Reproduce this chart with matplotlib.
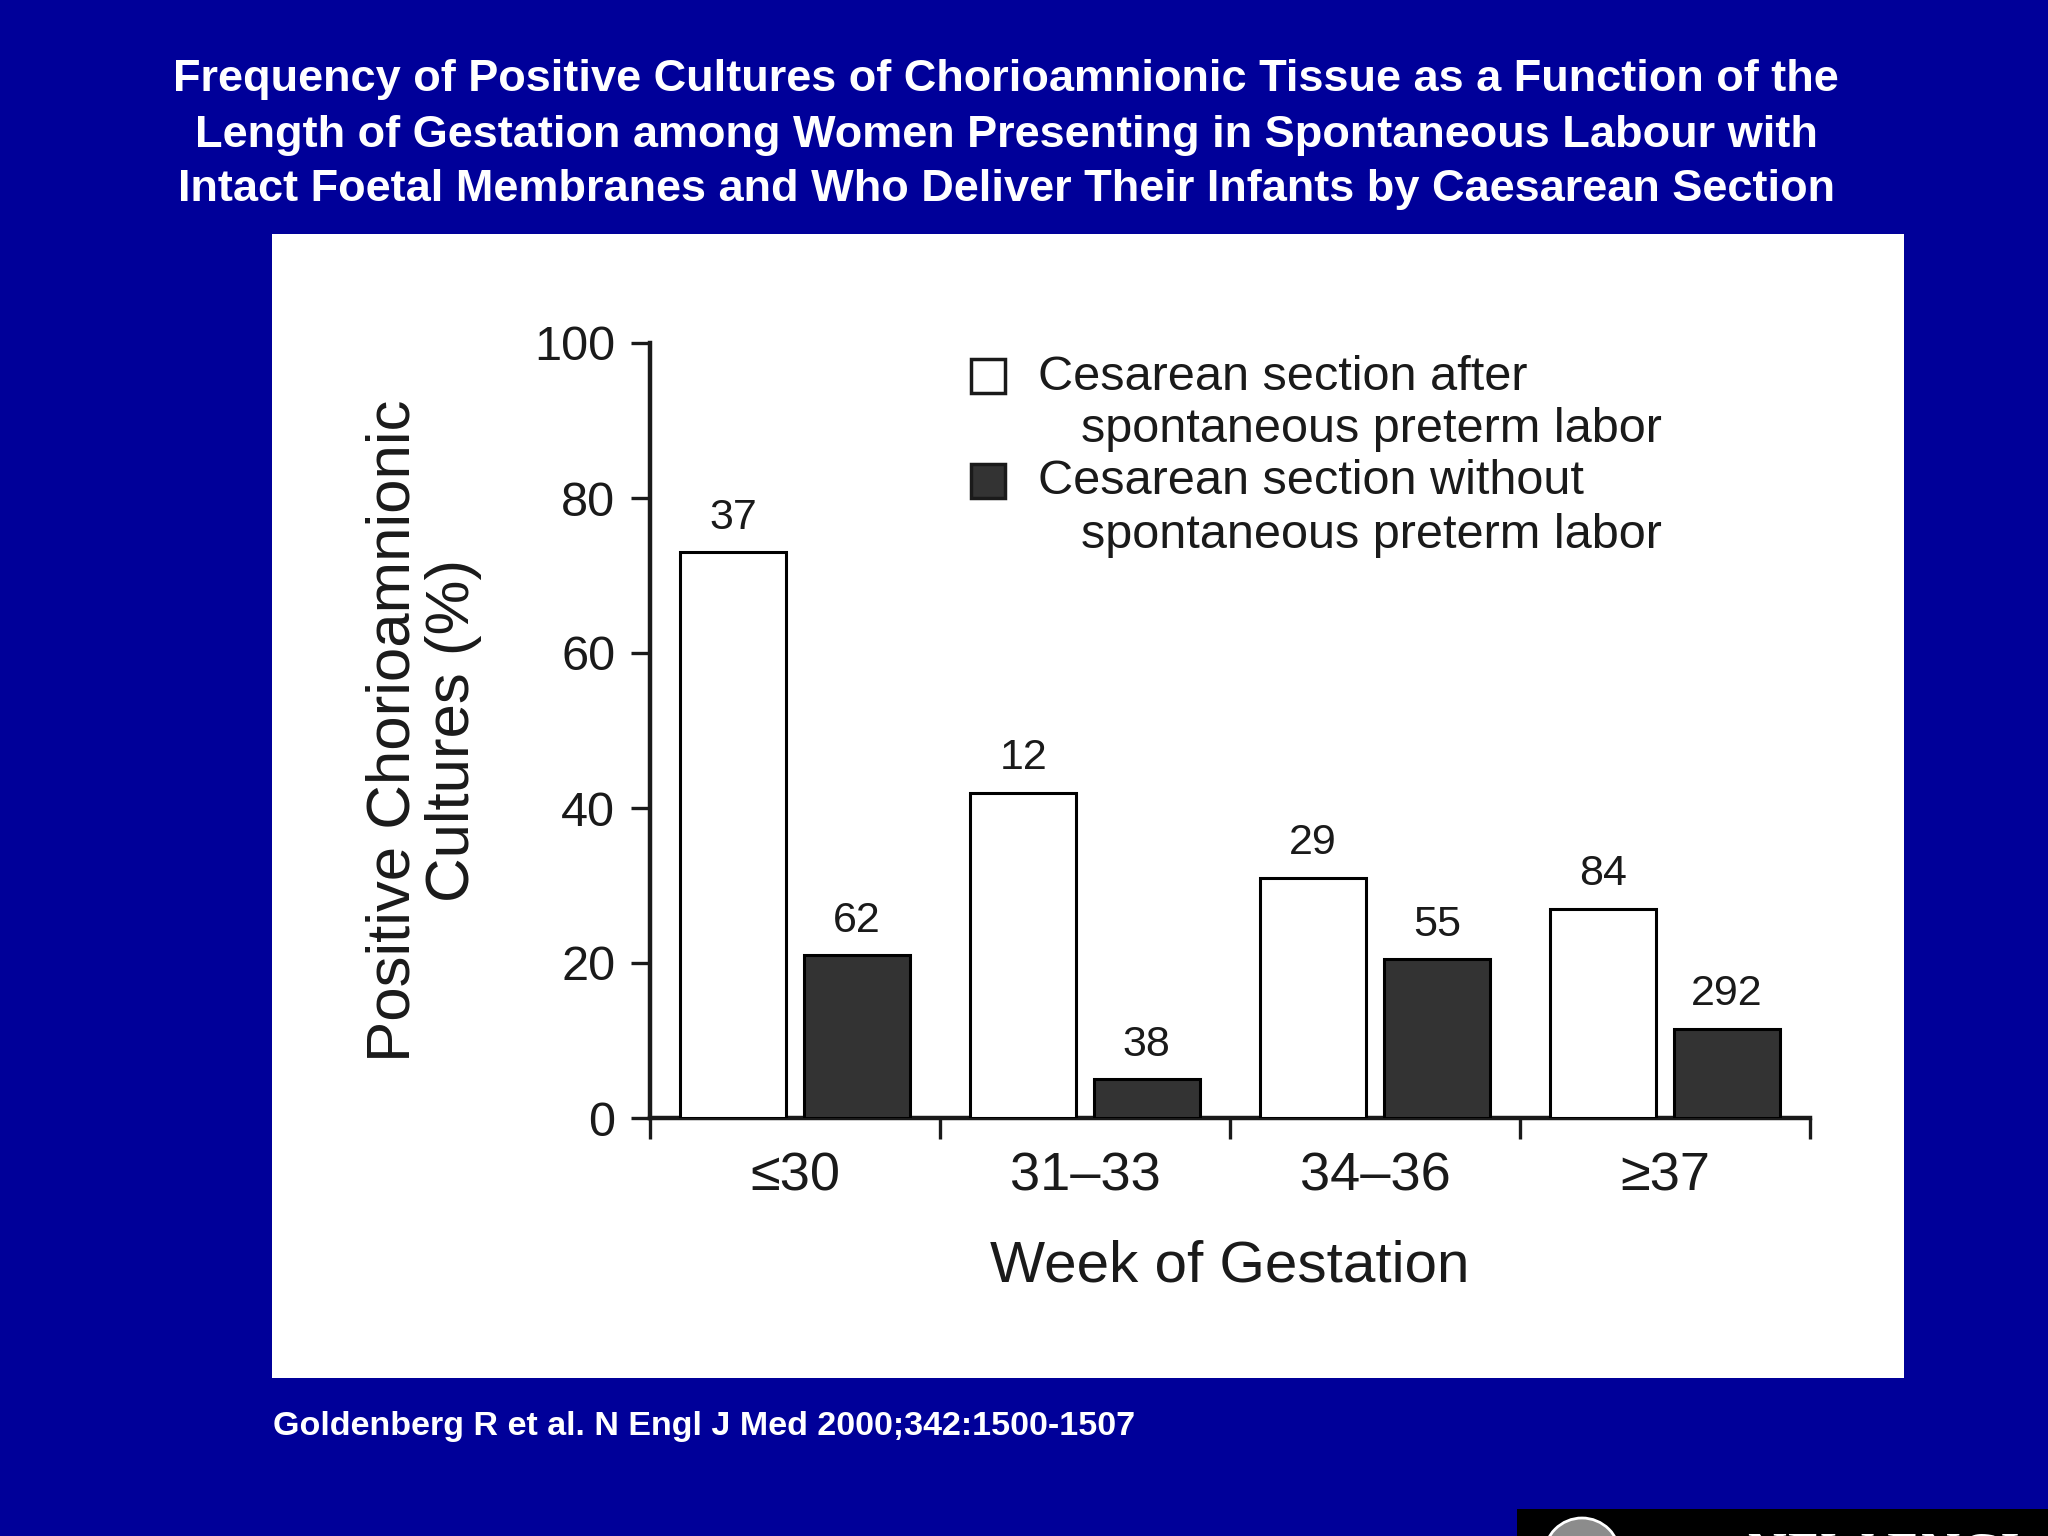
import numpy as np
import matplotlib
matplotlib.use("Agg")
import matplotlib.pyplot as plt
from matplotlib.patches import Rectangle, Ellipse

plt.rcParams['font.family'] = ['Liberation Sans', 'DejaVu Sans']

# data
weeks = ['≤30', '31–33', '34–36', '≥37']
after_labor = [73, 42, 31, 27]        # cesarean section after spontaneous preterm labor (%)
without_labor = [21, 5, 20.5, 11.5]   # cesarean section without spontaneous preterm labor (%)
n_after = [37, 12, 29, 84]
n_without = [62, 38, 55, 292]

BG = '#000099'
DARK = '#333333'
INK = '#1a1a1a'
W, H = 2048, 1536


def fx(px):
    return px / W


def fy(py):
    return 1 - py / H


fig = plt.figure(figsize=(20.48, 15.36), dpi=100, facecolor=BG)

# white panel behind the chart
fig.patches.append(Rectangle((fx(272), fy(1378)), fx(1904) - fx(272), fy(234) - fy(1378),
                             transform=fig.transFigure, facecolor='white', edgecolor='none', zorder=-5))

# title, three lines
title_lines = ["Frequency of Positive Cultures of Chorioamnionic Tissue as a Function of the",
               "Length of Gestation among Women Presenting in Spontaneous Labour with",
               "Intact Foetal Membranes and Who Deliver Their Infants by Caesarean Section"]
for i, line in enumerate(title_lines):
    fig.text(fx(1006), fy(80 + 55 * i), line, color='white', fontsize=32.5, fontweight='bold',
             ha='center', va='center')

# axes
ax = fig.add_axes([fx(650), fy(1118), fx(1810) - fx(650), fy(343) - fy(1118)])
ax.set_facecolor('white')

x = np.arange(len(weeks))
w = 0.365
off = 0.213
b1 = ax.bar(x - off, after_labor, w, color='white', edgecolor='black', linewidth=2.2, zorder=3)
b2 = ax.bar(x + off, without_labor, w, color=DARK, edgecolor='black', linewidth=2.2, zorder=3)

for bars, ns in [(b1, n_after), (b2, n_without)]:
    for rect, n in zip(bars, ns):
        ax.annotate(str(n), (rect.get_x() + rect.get_width() / 2, rect.get_height()),
                    xytext=(0, 17), textcoords='offset points', ha='center', va='baseline',
                    fontsize=31, color=INK)

ax.set_xlim(-0.5, 3.5)
ax.set_ylim(0, 100)
for s in ['top', 'right']:
    ax.spines[s].set_visible(False)
for s in ['left', 'bottom']:
    ax.spines[s].set_linewidth(3.2)
    ax.spines[s].set_color(INK)

ax.set_yticks([0, 20, 40, 60, 80, 100])
ax.tick_params(axis='y', direction='out', length=14, width=2.4, pad=11, labelsize=35,
               color=INK, labelcolor=INK)
ax.set_xticks(x)
ax.set_xticklabels(weeks)
ax.set_xticks(np.arange(-0.5, 4.0, 1.0), minor=True)
ax.tick_params(axis='x', which='major', length=0, pad=24, labelsize=39, labelcolor=INK)
ax.tick_params(axis='x', which='minor', direction='out', length=15, width=2.4, color=INK)

ax.set_xlabel('Week of Gestation', fontsize=42, color=INK)
ax.xaxis.label.set_va('center')
ax.xaxis.set_label_coords(0.5, (1118 - 1267) / 775)
ax.set_ylabel('Positive Chorioamnionic\nCultures (%)', fontsize=44.5, color=INK, linespacing=1.05)
ax.yaxis.label.set_va('center')
ax.yaxis.set_label_coords((424 - 650) / 1160, 0.5)

# legend drawn by hand: key squares and wrapped labels
sq = 34
for yc, fc in [(376, 'white'), (481, DARK)]:
    fig.patches.append(Rectangle((fx(971), fy(yc + sq / 2)), sq / W, sq / H, transform=fig.transFigure,
                                 facecolor=fc, edgecolor=INK, linewidth=2.5, zorder=5))
leg_lines = [(1038, 377, 'Cesarean section after'),
             (1081, 430, 'spontaneous preterm labor'),
             (1038, 482, 'Cesarean section without'),
             (1081, 535, 'spontaneous preterm labor')]
for px, py, t in leg_lines:
    fig.text(fx(px), fy(py), t, fontsize=35, color=INK, ha='left', va='center')

# citation
fig.text(fx(273), fy(1426), 'Goldenberg R et al. N Engl J Med 2000;342:1500-1507', color='white',
         fontsize=24.5, fontweight='bold', ha='left', va='center')

# journal logo strip, bottom right (cut off by the slide edge)
fig.patches.append(Rectangle((fx(1517), 0), 1 - fx(1517), fy(1509), transform=fig.transFigure,
                             facecolor='black', edgecolor='none', zorder=1))
fig.patches.append(Ellipse((fx(1582), fy(1556)), 76 / W, 76 / H, transform=fig.transFigure,
                           facecolor='#8c8c8c', edgecolor='white', linewidth=2, zorder=2))
fig.text(fx(1700), fy(1531), '•  NEW ENGLAND', color='white', fontsize=40, family='Liberation Serif',
         ha='left', va='top')

fig.savefig('out.png', dpi=100, facecolor=BG)
